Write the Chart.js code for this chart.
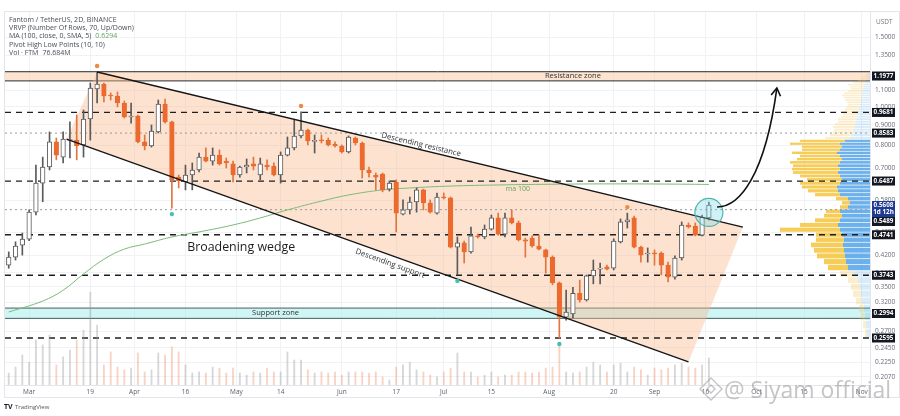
<!DOCTYPE html>
<html>
<head>
<meta charset="utf-8">
<script src="https://cdn.jsdelivr.net/npm/chart.js@4.4.1/dist/chart.umd.min.js"></script>
<style>
html, body { margin: 0; padding: 0; background: #fff; }
#wrap { position: relative; width: 900px; height: 416px; }
</style>
</head>
<body>
<div id="wrap"><canvas id="c" width="900" height="416"></canvas></div>
<script>
const FONT = '"Open Sans", "Liberation Sans", Arial, sans-serif'

// FTM/USDT 2D candles, first candle Feb 24 (day -6 from Mar 1)
const startDay = -6
const open = [0.397,0.416,0.446,0.462,0.541,0.641,0.704,0.815,0.746,0.822,0.824,0.801,0.932,1.110,1.143,1.072,1.066,1.023,0.943,0.948,
    0.815,0.796,0.864,1.017,0.916,0.664,0.645,0.672,0.692,0.746,0.729,0.755,0.729,0.717,0.672,0.704,0.717,0.672,0.712,0.708,
    0.672,0.755,0.787,0.844,0.874,0.818,0.824,0.824,0.805,0.796,0.769,0.834,0.810,0.692,0.672,0.676,0.619,0.645,0.535,0.548,
    0.574,0.616,0.571,0.538,0.591,0.588,0.441,0.452,0.429,0.471,0.468,0.490,0.523,0.476,0.523,0.508,0.460,0.465,0.444,0.434,
    0.416,0.358,0.293,0.2985,0.337,0.324,0.373,0.388,0.393,0.390,0.4545,0.511,0.523,0.441,0.4237,0.426,0.426,0.397,0.370,0.414,
    0.502,0.499,0.473,0.523]
const high = [0.429,0.455,0.479,0.548,0.712,0.746,0.864,0.834,0.864,0.916,0.954,0.982,1.150,1.226,1.150,1.085,1.091,1.035,1.023,0.954,
    0.849,0.900,1.041,1.047,0.921,0.672,0.712,0.721,0.764,0.787,0.787,0.778,0.742,0.729,0.708,0.738,0.746,0.742,0.734,0.721,
    0.769,0.839,0.926,0.971,0.879,0.849,0.849,0.834,0.815,0.801,0.844,0.839,0.815,0.704,0.680,0.680,0.649,0.653,0.581,0.591,
    0.623,0.619,0.581,0.605,0.605,0.591,0.468,0.457,0.496,0.476,0.502,0.532,0.538,0.538,0.548,0.514,0.465,0.471,0.473,0.436,
    0.419,0.360,0.343,0.349,0.364,0.375,0.409,0.402,0.397,0.463,0.520,0.538,0.529,0.444,0.439,0.434,0.429,0.404,0.419,0.511,
    0.508,0.508,0.532,0.574]
const low = [0.390,0.409,0.421,0.458,0.532,0.575,0.692,0.734,0.721,0.742,0.734,0.746,0.824,1.023,1.029,1.041,1.000,0.937,0.910,0.810,
    0.778,0.791,0.859,0.910,0.554,0.623,0.616,0.616,0.684,0.725,0.712,0.712,0.700,0.645,0.664,0.680,0.692,0.653,0.692,0.668,
    0.641,0.751,0.778,0.834,0.801,0.764,0.810,0.796,0.791,0.764,0.764,0.801,0.660,0.664,0.616,0.609,0.612,0.482,0.532,0.535,
    0.541,0.548,0.538,0.535,0.584,0.439,0.375,0.402,0.426,0.465,0.463,0.487,0.473,0.468,0.505,0.457,0.416,0.441,0.434,0.379,
    0.354,0.2595,0.288,0.2916,0.320,0.322,0.356,0.356,0.386,0.386,0.452,0.493,0.439,0.404,0.404,0.397,0.375,0.360,0.366,0.409,
    0.493,0.471,0.471,0.517]
const close = [0.416,0.444,0.462,0.541,0.641,0.704,0.815,0.755,0.829,0.826,0.796,0.932,1.117,1.143,1.066,1.066,1.023,0.943,0.948,0.815,
    0.796,0.869,1.017,0.916,0.653,0.649,0.672,0.692,0.746,0.729,0.755,0.717,0.721,0.672,0.704,0.712,0.708,0.717,0.704,0.672,
    0.755,0.787,0.844,0.874,0.820,0.822,0.820,0.801,0.796,0.769,0.839,0.810,0.692,0.680,0.664,0.616,0.641,0.538,0.548,0.574,
    0.616,0.571,0.541,0.591,0.588,0.441,0.452,0.429,0.471,0.468,0.490,0.523,0.476,0.523,0.508,0.460,0.457,0.444,0.436,0.416,
    0.358,0.293,0.302,0.337,0.324,0.373,0.386,0.390,0.388,0.457,0.511,0.517,0.441,0.421,0.4262,0.424,0.397,0.370,0.414,0.502,
    0.496,0.473,0.526,0.564]
// volume in millions FTM
const volume = [34,51,85,65,128,114,142,57,80,99,128,156,264,170,57,94,51,43,48,91,
    37,43,91,85,108,94,57,34,37,34,51,48,34,48,34,28,37,34,48,37,
    37,94,71,71,43,34,37,34,37,28,37,37,37,34,37,23,14,51,57,65,
    43,37,28,23,37,48,91,37,37,23,28,37,23,28,28,37,37,34,37,48,
    51,114,37,34,37,51,65,57,37,57,62,37,51,43,28,48,43,48,57,62,
    51,48,57,77]

// MA 100 (close, SMA, offset 5) read at a few candles
const maDays = [-6, 4, 10, 16, 22, 28, 34, 42, 50, 60, 68, 76, 86, 94, 104, 112, 124, 138, 156, 174, 192, 200]
const maValues = [0.302, 0.322, 0.343, 0.377, 0.411, 0.436, 0.449, 0.468, 0.482, 0.502, 0.523, 0.548, 0.577, 0.598, 0.616, 0.623, 0.630, 0.634, 0.637, 0.638, 0.637, 0.636]

// pivot high / low candles (index)
const pivotHighs = [13, 43, 91]
const pivotLows = [24, 66, 81]

// visible range profile: 70 rows, up / down volume per row (bottom to top)
const profMin = 0.2595
const profMax = 1.226
const profUp = [3,4,5,6,8,9,10,12,16,22, 24,25,26,27,26,28,30,32,30,28, 30,22,20,22,30,32,33,30,28,30,
    32,30,32,30,28,30,33,30,28,30, 25,20,18,17,16,15,15,14,14,13, 12,12,11,10,10,9,9,8,8,8, 7,7,6,6,5,4,3,3,2,2]
const profDown = [2,3,4,5,6,8,9,10,14,20, 22,28,30,32,28,26,60,38,25,18, 14,8,8,12,25,30,35,40,35,40,
    45,48,45,50,45,40,45,38,40,50, 45,25,22,20,20,22,20,18,18,16, 15,14,14,13,12,14,16,18,20,18, 15,12,14,16,12,8,6,5,3,2]
const valueArea = [9, 40]

// axis ticks
const tickDays = [0, 18, 31, 46, 61, 74, 92, 108, 122, 136, 153, 172, 184, 199, 214, 228, 245]
const tickLabels = ['Mar', '19', 'Apr', '16', 'May', '14', 'Jun', '17', 'Jul', '15', 'Aug', '20', 'Sep', '16', 'Oct', '15', 'Nov']
const yTicks = [1.5, 1.35, 1.1, 1.0, 0.9, 0.8, 0.7, 0.58, 0.48, 0.42, 0.38, 0.35, 0.32, 0.27, 0.245, 0.225, 0.207]

// drawings
const resistanceZone = [1.164, 1.228]
const supportZone = [0.291, 0.309]
const dashedLevels = [0.9681, 0.6487, 0.4741, 0.3743, 0.2595]
const dottedLevels = [0.8583, 0.5489]
const axisLevels = [1.1977, 0.9681, 0.8583, 0.6487, 0.4741, 0.3743, 0.2994, 0.2595]
const lastPrice = 0.5608
const belowLast = 0.5489
const resLine = [[20, 1.226], [210, 0.496]]
const supLine = [[11, 0.829], [194, 0.2256]]
const arrowPts = [[202.4, 0.5575], [209.1, 0.5575], [216.5, 0.672], [220, 1.1166]]
const circleAt = [200, 0.54]

const dayOf = i => startDay + 2 * i
const isUp = i => close[i] >= open[i]

const overlay = {
    id: 'overlay',
    beforeDatasetsDraw(chart) {
        const { ctx, chartArea: a, scales: s } = chart
        const X = d => s.x.getPixelForValue(d)
        const Y = p => s.y.getPixelForValue(p)
        ctx.save()
        ctx.beginPath()
        ctx.rect(a.left, a.top, a.width, a.height)
        ctx.clip()

        const band = (zone, fill, stroke) => {
            const y1 = Y(zone[1]), y2 = Y(zone[0])
            ctx.fillStyle = fill
            ctx.fillRect(a.left, y1, a.width, y2 - y1)
            ctx.strokeStyle = stroke
            ctx.lineWidth = 1
            ctx.beginPath()
            ctx.moveTo(a.left, y1); ctx.lineTo(a.right, y1)
            ctx.moveTo(a.left, y2); ctx.lineTo(a.right, y2)
            ctx.stroke()
        }
        band(resistanceZone, 'rgba(250, 205, 170, 0.55)', '#2b2b2b')
        band(supportZone, 'rgba(175, 238, 238, 0.6)', '#44605f')

        // wedge fill
        const poly = [resLine[0], resLine[1], supLine[1], supLine[0]]
        ctx.fillStyle = 'rgba(250, 185, 140, 0.42)'
        ctx.beginPath()
        poly.forEach((p, i) => i ? ctx.lineTo(X(p[0]), Y(p[1])) : ctx.moveTo(X(p[0]), Y(p[1])))
        ctx.closePath()
        ctx.fill()

        // volume profile, anchored on the right edge of the pane
        const step = (profMax - profMin) / profUp.length
        const xp = s.xp
        const w = v => xp.getPixelForValue(v) - xp.getPixelForValue(0)
        const x0 = a.right
        for (let r = 0; r < profUp.length; r++) {
            const yt = Y(profMin + (r + 1) * step), yb = Y(profMin + r * step)
            const h = Math.max(1, yb - yt - 0.7)
            const inVa = r >= valueArea[0] && r <= valueArea[1]
            const xu = x0 - w(profUp[r])
            const xd = x0 - w(profUp[r] + profDown[r])
            ctx.fillStyle = inVa ? 'rgba(66, 155, 230, 0.78)' : 'rgba(120, 185, 235, 0.28)'
            ctx.fillRect(xu, yt, x0 - xu, h)
            ctx.fillStyle = inVa ? 'rgba(246, 196, 60, 0.85)' : 'rgba(246, 200, 90, 0.3)'
            ctx.fillRect(xd, yt, xu - xd, h)
        }

        // levels
        ctx.lineWidth = 1.3
        ctx.strokeStyle = '#1f1f1f'
        ctx.setLineDash([6, 5])
        dashedLevels.forEach(v => {
            ctx.beginPath(); ctx.moveTo(a.left, Y(v)); ctx.lineTo(a.right, Y(v)); ctx.stroke()
        })
        ctx.lineWidth = 1
        ctx.strokeStyle = '#9a9a9a'
        ctx.setLineDash([2, 3])
        dottedLevels.forEach(v => {
            ctx.beginPath(); ctx.moveTo(a.left, Y(v)); ctx.lineTo(a.right, Y(v)); ctx.stroke()
        })
        ctx.restore()
    },
    afterDatasetsDraw(chart) {
        const { ctx, chartArea: a, scales: s } = chart
        const X = d => s.x.getPixelForValue(d)
        const Y = p => s.y.getPixelForValue(p)
        ctx.save()
        ctx.beginPath()
        ctx.rect(a.left, a.top, a.width, a.height)
        ctx.clip()

        // trend lines
        ctx.strokeStyle = '#151515'
        ctx.lineWidth = 1.3
        ;[resLine, supLine].forEach(l => {
            ctx.beginPath()
            ctx.moveTo(X(l[0][0]), Y(l[0][1]))
            ctx.lineTo(X(l[1][0]), Y(l[1][1]))
            ctx.stroke()
        })

        const textOnLine = (text, l, day, off) => {
            const x1 = X(l[0][0]), y1 = Y(l[0][1]), x2 = X(l[1][0]), y2 = Y(l[1][1])
            const px = X(day), t = (px - x1) / (x2 - x1), py = y1 + t * (y2 - y1)
            ctx.save()
            ctx.translate(px, py)
            ctx.rotate(Math.atan2(y2 - y1, x2 - x1))
            ctx.fillStyle = '#333'
            ctx.font = '7.8px ' + FONT
            ctx.textAlign = 'center'
            ctx.textBaseline = 'middle'
            ctx.fillText(text, 0, off)
            ctx.restore()
        }
        textOnLine('Descending resistance', resLine, 115, -5)
        textOnLine('Descending support', supLine, 107, 8)

        ctx.fillStyle = '#333'
        ctx.font = '7.5px ' + FONT
        ctx.textAlign = 'center'
        ctx.textBaseline = 'middle'
        ctx.fillText('Resistance zone', X(160), Y(Math.sqrt(resistanceZone[0] * resistanceZone[1])))
        ctx.fillText('Support zone', X(72.5), Y(Math.sqrt(supportZone[0] * supportZone[1])))

        ctx.fillStyle = '#1c1c1c'
        ctx.font = '12.4px ' + FONT
        ctx.textAlign = 'left'
        ctx.fillText('Broadening wedge', X(46.5), Y(0.441))

        ctx.fillStyle = '#5c9f5c'
        ctx.font = '7px ' + FONT
        ctx.textAlign = 'center'
        ctx.fillText('ma 100', X(143.8), Y(0.619))

        // pivot points
        pivotHighs.forEach(i => {
            ctx.fillStyle = '#ef8a45'
            ctx.beginPath(); ctx.arc(X(dayOf(i)), Y(high[i]) - 6, 2.2, 0, Math.PI * 2); ctx.fill()
        })
        pivotLows.forEach(i => {
            ctx.fillStyle = '#45c0b0'
            ctx.beginPath(); ctx.arc(X(dayOf(i)), Y(low[i]) + 6, 2.2, 0, Math.PI * 2); ctx.fill()
        })

        // breakout circle
        ctx.fillStyle = 'rgba(120, 215, 225, 0.35)'
        ctx.strokeStyle = '#4fb3ad'
        ctx.lineWidth = 1.2
        ctx.beginPath(); ctx.arc(X(circleAt[0]), Y(circleAt[1]), 14, 0, Math.PI * 2); ctx.fill(); ctx.stroke()

        // projected move arrow
        const P = arrowPts.map(p => [X(p[0]), Y(p[1])])
        ctx.strokeStyle = '#111'
        ctx.lineWidth = 1.6
        ctx.beginPath()
        ctx.moveTo(P[0][0], P[0][1])
        ctx.bezierCurveTo(P[1][0], P[1][1], P[2][0], P[2][1], P[3][0], P[3][1])
        ctx.stroke()
        const ang = Math.atan2(P[3][1] - P[2][1], P[3][0] - P[2][0])
        ctx.beginPath()
        ctx.moveTo(P[3][0] - 9 * Math.cos(ang - 0.55), P[3][1] - 9 * Math.sin(ang - 0.55))
        ctx.lineTo(P[3][0], P[3][1])
        ctx.lineTo(P[3][0] - 9 * Math.cos(ang + 0.55), P[3][1] - 9 * Math.sin(ang + 0.55))
        ctx.stroke()
        ctx.restore()
    },
    afterDraw(chart) {
        const { ctx, chartArea: a, scales: s } = chart
        const Y = p => s.y.getPixelForValue(p)
        ctx.save()

        // frame
        ctx.strokeStyle = '#e3e5ea'
        ctx.lineWidth = 1
        ctx.strokeRect(a.left - 0.5, a.top - 0.5, a.width + 30, a.height + 13)
        ctx.beginPath(); ctx.moveTo(a.right + 0.5, a.top); ctx.lineTo(a.right + 0.5, a.bottom + 13); ctx.stroke()
        ctx.beginPath(); ctx.moveTo(a.left, a.bottom + 0.5); ctx.lineTo(a.right, a.bottom + 0.5); ctx.stroke()

        // header
        ctx.font = '7px ' + FONT
        ctx.textAlign = 'left'
        ctx.textBaseline = 'middle'
        const head = ['Fantom / TetherUS, 2D, BINANCE', 'VRVP (Number Of Rows, 70, Up/Down)', 'MA (100, close, 0, SMA, 5)',
            'Pivot High Low Points (10, 10)', 'Vol · FTM']
        const headVal = ['', '', '0.6294', '', '76.684M']
        head.forEach((t, i) => {
            const y = a.top + 8 + i * 8.2
            ctx.fillStyle = '#4a4d57'
            ctx.fillText(t, a.left + 4, y)
            if (headVal[i]) {
                ctx.fillStyle = i === 2 ? '#63a863' : '#4a4d57'
                ctx.fillText(headVal[i], a.left + 4 + ctx.measureText(t).width + 4, y)
            }
        })

        ctx.font = '6.5px ' + FONT
        ctx.fillStyle = '#777'
        ctx.fillText('USDT', a.right + 6, a.top + 10)

        // axis price boxes
        const box = (v, y, h, bg, lines) => {
            ctx.fillStyle = bg
            ctx.fillRect(a.right + 2, y, 23, h)
            ctx.fillStyle = '#fff'
            ctx.font = 'bold 6.3px ' + FONT
            ctx.textAlign = 'center'
            lines.forEach((t, i) => ctx.fillText(t, a.right + 13.5, y + 4.5 + i * 6.5))
        }
        axisLevels.forEach(v => box(v, Y(v) - 4.5, 9, '#131722', [v.toFixed(4)]))
        const yl = Y(lastPrice)
        box(lastPrice, yl - 5, 16, '#1f3a93', [lastPrice.toFixed(4), '1d 12h'])
        box(belowLast, yl + 11, 9, '#131722', [belowLast.toFixed(4)])

        // watermark
        ctx.fillStyle = 'rgba(150, 150, 150, 0.55)'
        ctx.strokeStyle = 'rgba(150, 150, 150, 0.55)'
        ctx.font = '23px ' + FONT
        ctx.textAlign = 'left'
        ctx.textBaseline = 'alphabetic'
        ctx.fillText('@ Siyam official', 724, 398)
        ctx.lineWidth = 1.4
        const cx = 711, cy = 389
        ctx.beginPath()
        ctx.moveTo(cx, cy - 11); ctx.lineTo(cx + 11, cy); ctx.lineTo(cx, cy + 11); ctx.lineTo(cx - 11, cy); ctx.closePath()
        ctx.stroke()
        ctx.beginPath()
        ctx.moveTo(cx, cy - 4); ctx.lineTo(cx + 4, cy); ctx.lineTo(cx, cy + 4); ctx.lineTo(cx - 4, cy); ctx.closePath()
        ctx.stroke()

        // tradingview logo
        ctx.fillStyle = '#131722'
        ctx.font = 'bold 7px ' + FONT
        ctx.textBaseline = 'middle'
        ctx.fillText('TV', 4, 407)
        ctx.font = '6px ' + FONT
        ctx.fillStyle = '#555'
        ctx.fillText('TradingView', 15, 407)
        ctx.restore()
    }
}

const bodies = open.map((o, i) => ({ x: dayOf(i), y: [o, close[i]] }))
const wicks = low.map((l, i) => ({ x: dayOf(i), y: [l, high[i]] }))
const vols = volume.map((v, i) => ({ x: dayOf(i), y: v }))

new Chart(document.getElementById('c'), {
    type: 'bar',
    data: {
        datasets: [{
            label: 'body',
            data: bodies,
            grouped: false,
            barThickness: 4.6,
            minBarLength: 1,
            borderSkipped: false,
            borderWidth: 1,
            backgroundColor: open.map((o, i) => isUp(i) ? '#ffffff' : '#ec6a2e'),
            borderColor: open.map((o, i) => isUp(i) ? '#5a5a5a' : '#ec6a2e'),
            order: 0
        }, {
            label: 'wick',
            data: wicks,
            grouped: false,
            barThickness: 1,
            backgroundColor: open.map((o, i) => isUp(i) ? '#5a5a5a' : '#e0753f'),
            order: 1
        }, {
            type: 'line',
            label: 'MA 100',
            data: maDays.map((d, i) => ({ x: d, y: maValues[i] })),
            borderColor: '#79bb79',
            borderWidth: 1,
            pointRadius: 0,
            tension: 0.4,
            order: 2
        }, {
            label: 'Volume',
            data: vols,
            yAxisID: 'yv',
            grouped: false,
            barThickness: 1.2,
            backgroundColor: open.map((o, i) => isUp(i) ? 'rgba(150, 150, 150, 0.38)' : 'rgba(236, 140, 100, 0.38)'),
            order: 3
        }]
    },
    options: {
        responsive: false,
        animation: false,
        layout: {
            padding: { top: 12, left: 5, right: 0, bottom: 18 }
        },
        plugins: {
            legend: { display: false },
            tooltip: { enabled: false }
        },
        scales: {
            x: {
                type: 'linear',
                offset: false,
                min: -7.1,
                max: 247.4,
                bounds: 'data',
                afterBuildTicks: axis => { axis.ticks = tickDays.map(v => ({ value: v })) },
                afterFit: axis => { axis.height = 13 },
                ticks: {
                    callback: (v, i) => tickLabels[i],
                    autoSkip: false,
                    maxRotation: 0,
                    padding: 3,
                    color: '#5d606b',
                    font: { size: 6.5, family: FONT }
                },
                grid: { color: '#f0f2f6', drawTicks: false, offset: false },
                border: { display: false }
            },
            y: {
                type: 'logarithmic',
                position: 'right',
                min: 0.19722,
                max: 1.7403,
                bounds: 'data',
                afterBuildTicks: axis => { axis.ticks = yTicks.map(v => ({ value: v })) },
                afterFit: axis => { axis.width = 30 },
                ticks: {
                    callback: v => Number(v).toFixed(4),
                    autoSkip: false,
                    padding: 5,
                    color: '#6a6d78',
                    font: { size: 6.5, family: FONT }
                },
                grid: { color: '#f0f2f6', drawTicks: false },
                border: { display: false }
            },
            yv: { type: 'linear', display: false, min: 0, max: 1060 },
            xp: { type: 'linear', display: false, offset: false, min: 0, max: 865 }
        }
    },
    plugins: [overlay]
})
</script>
</body>
</html>
